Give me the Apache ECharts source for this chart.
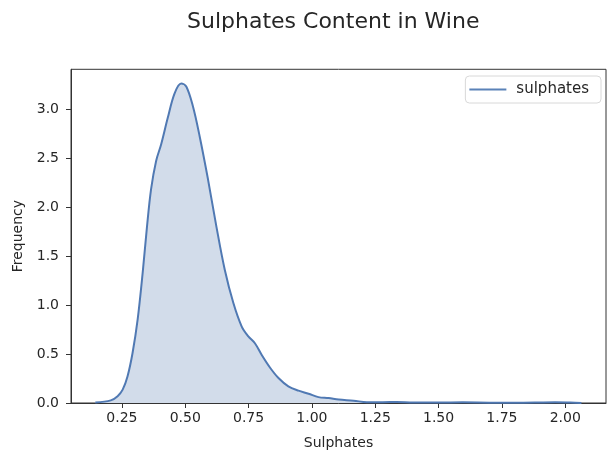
<!DOCTYPE html>
<html>
<head>
<meta charset="utf-8">
<script src="https://cdn.jsdelivr.net/npm/echarts@6/dist/echarts.min.js"></script>
<style>
html,body{margin:0;padding:0;background:#fff;}
#chart{width:616px;height:460px;}
</style>
</head>
<body>
<div id="chart"></div>
<script>
const sulphates = [0.145,0.206,0.233,0.253,0.272,0.292,0.312,0.332,0.349,0.365,0.385,0.405,0.431,0.458,0.484,0.504,0.530,0.557,0.590,0.623,0.656,0.690,0.723,0.749,0.775,0.802,0.835,0.868,0.907,0.947,0.987,1.026,1.066,1.106,1.165,1.217,1.280,1.335,1.400,1.500,1.595,1.700,1.790,1.880,1.960,2.020,2.064];
const density = [0.005,0.027,0.07,0.136,0.27,0.51,0.85,1.33,1.80,2.18,2.47,2.64,2.91,3.16,3.26,3.23,3.03,2.72,2.28,1.80,1.36,1.02,0.78,0.68,0.61,0.49,0.36,0.255,0.17,0.126,0.095,0.06,0.05,0.035,0.024,0.008,0.008,0.01,0.004,0.004,0.007,0.003,0.002,0.004,0.008,0.005,0.001];
const xTicks = [0.25,0.50,0.75,1.00,1.25,1.50,1.75,2.00];
const yTicks = [0,0.5,1.0,1.5,2.0,2.5,3.0];

const chart = echarts.init(document.getElementById('chart'));
const font = 'DejaVu Sans';
const txt = '#262626';
chart.setOption({
  animation:false,
  title:{text:'Sulphates Content in Wine',left:182,top:6,textStyle:{fontFamily:font,fontSize:22,fontWeight:'normal',color:txt}},
  legend:{data:['sulphates'],right:15,top:76,orient:'vertical',itemWidth:37,itemHeight:2,
    borderColor:'#d8d8d8',borderWidth:1,borderRadius:4,padding:[6,12,6,4],
    textStyle:{fontFamily:font,fontSize:15,color:txt,padding:[0,0,0,5]},icon:'rect'},
  grid:{left:71,right:10,top:69.3,bottom:57,show:true,borderColor:'#333',borderWidth:1,backgroundColor:'transparent'},
  xAxis:{type:'value',min:0.049,max:2.161,name:'Sulphates',nameLocation:'middle',nameGap:33,
    nameTextStyle:{fontFamily:font,fontSize:14,color:txt},
    axisLine:{show:true,lineStyle:{color:'#333'}},
    axisTick:{show:true,length:5,customValues:xTicks,lineStyle:{color:'#333'}},
    axisLabel:{customValues:xTicks,fontFamily:font,fontSize:14,color:txt,margin:8,formatter:v=>v.toFixed(2)},
    splitLine:{show:false}},
  yAxis:{type:'value',min:0,max:3.405,name:'Frequency',nameLocation:'middle',nameGap:45,
    nameTextStyle:{fontFamily:font,fontSize:14,color:txt},
    axisLine:{show:true,lineStyle:{color:'#333'}},
    axisTick:{show:true,length:5,customValues:yTicks,lineStyle:{color:'#333'}},
    axisLabel:{customValues:yTicks,fontFamily:font,fontSize:14,color:txt,margin:12,formatter:v=>v.toFixed(1)},
    splitLine:{show:false}},
  series:[{name:'sulphates',type:'line',smooth:0.35,showSymbol:false,
    data:sulphates.map((x,i)=>[x,density[i]]),
    itemStyle:{color:'#5a82b8'},
    lineStyle:{color:'#5079b3',width:2},
    areaStyle:{color:'#d2dcea',opacity:1}}]
});
</script>
</body>
</html>
